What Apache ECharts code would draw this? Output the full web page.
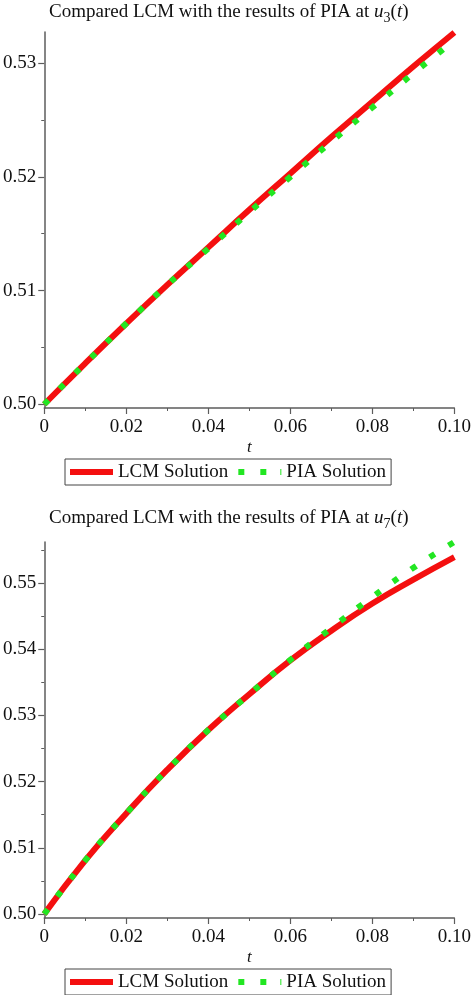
<!DOCTYPE html>
<html>
<head>
<meta charset="utf-8">
<script src="https://cdn.jsdelivr.net/npm/echarts@6/dist/echarts.min.js"></script>
<style>
  html, body { margin: 0; padding: 0; background: #fff; }
  #chart { width: 474px; height: 995px; }
</style>
</head>
<body>
<div id="chart"></div>
<script>
const tValues = [0, 0.01, 0.02, 0.03, 0.04, 0.05, 0.06, 0.07, 0.08, 0.09, 0.1];

// top panel, u3(t)
const lcmU3 = [0.5, 0.5036, 0.5071, 0.5105, 0.5138, 0.5171, 0.5203, 0.5235, 0.5266, 0.5297, 0.5327];
const piaU3 = [0.5, 0.5036, 0.5071, 0.5105, 0.5137, 0.5169, 0.5200, 0.5231, 0.5261, 0.5291, 0.5320];
const yTicksU3 = [0.50, 0.51, 0.52, 0.53];
const yMinorU3 = [0.505, 0.515, 0.525];

// bottom panel, u7(t)
const lcmU7 = [0.5, 0.5081, 0.5152, 0.5218, 0.5278, 0.5332, 0.5383, 0.5428, 0.5469, 0.5505, 0.5539];
const piaU7 = [0.5, 0.5081, 0.5152, 0.5218, 0.5278, 0.5332, 0.5384, 0.5432, 0.5479, 0.5523, 0.5562];
const yTicksU7 = [0.50, 0.51, 0.52, 0.53, 0.54, 0.55];
const yMinorU7 = [0.505, 0.515, 0.525, 0.535, 0.545, 0.555];

const seriesNames = ['LCM Solution', 'PIA Solution'];

document.addEventListener('DOMContentLoaded', function () {
    const chart = echarts.init(document.getElementById('chart'));
    const serif = 'Liberation Serif';
    const axisGrey = '#5c5c5c';
    const red = '#f40f0f';
    const green = '#22e622';

    const pairs = (ys) => tValues.map((t, i) => [t, ys[i]]);

    function titleFor(sub, top) {
        return {
            text: 'Compared LCM with the results of PIA at {u|u}{s|' + sub + '}({u|t})',
            left: 49,
            top: top,
            padding: 0,
            textStyle: {
                fontFamily: serif,
                fontSize: 19,
                fontWeight: 'normal',
                color: '#111',
                lineHeight: 26,
                rich: {
                    u: { fontFamily: serif, fontSize: 19, fontStyle: 'italic', color: '#111', lineHeight: 26 },
                    s: { fontFamily: serif, fontSize: 14, color: '#111', lineHeight: 13, verticalAlign: 'bottom' }
                }
            }
        };
    }

    function xAxisFor(grid) {
        return {
            type: 'value',
            gridIndex: grid,
            min: 0,
            max: 0.1,
            interval: 0.02,
            name: 't',
            nameLocation: 'middle',
            nameGap: 31,
            nameTextStyle: { fontFamily: serif, fontStyle: 'italic', fontSize: 17, color: '#111' },
            axisLine: { lineStyle: { color: axisGrey, width: 1.5 } },
            axisTick: { length: 6, lineStyle: { color: axisGrey, width: 1.2 } },
            minorTick: { show: true, splitNumber: 2, length: 3, lineStyle: { color: axisGrey, width: 1 } },
            splitLine: { show: false },
            axisLabel: {
                fontFamily: serif,
                fontSize: 19,
                color: '#111',
                margin: 10,
                showMaxLabel: true,
                formatter: (v) => (v === 0 ? '0' : v.toFixed(2))
            }
        };
    }

    function yAxisPair(grid, min, max, major, minor) {
        return [{
            type: 'value',
            gridIndex: grid,
            position: 'left',
            min: min,
            max: max,
            axisLine: { show: true, lineStyle: { color: axisGrey, width: 1.5 } },
            axisTick: { show: true, length: 6, customValues: major, lineStyle: { color: axisGrey, width: 1.2 } },
            axisLabel: {
                customValues: major,
                fontFamily: serif,
                fontSize: 19,
                color: '#111',
                margin: 8,
                formatter: (v) => v.toFixed(2)
            },
            splitLine: { show: false }
        }, {
            // minor ticks only
            type: 'value',
            gridIndex: grid,
            position: 'left',
            min: min,
            max: max,
            axisLine: { show: false },
            axisTick: { show: true, length: 3, customValues: minor, lineStyle: { color: axisGrey, width: 1 } },
            axisLabel: { show: false },
            splitLine: { show: false }
        }];
    }

    // legend swatches drawn as paths so the dotted one keeps its look
    const legendItems = [
        { name: seriesNames[0], icon: 'path://M0 0H43V6H0Z' },
        { name: seriesNames[1], icon: 'path://M0 0H6V6H0Z M22 0H28V6H22Z M42 0H43V6H42Z' }
    ];

    function legendFor(top) {
        return {
            left: 65,
            top: top,
            orient: 'horizontal',
            data: legendItems,
            itemWidth: 43,
            itemHeight: 6,
            itemGap: 10,
            padding: [3, 5, 3, 5],
            borderColor: '#444',
            borderWidth: 1,
            selectedMode: false,
            textStyle: { fontFamily: serif, fontSize: 19, color: '#111', lineHeight: 20 }
        };
    }

    function lineSeries(name, data, xi, yi, color, dashed) {
        return {
            name: name,
            type: 'line',
            xAxisIndex: xi,
            yAxisIndex: yi,
            data: data,
            smooth: true,
            symbol: 'none',
            showSymbol: false,
            clip: false,
            z: dashed ? 3 : 2,
            itemStyle: { color: color },
            lineStyle: {
                color: color,
                width: 6,
                type: dashed ? [6, 16] : 'solid',
                cap: 'butt'
            }
        };
    }

    const option = {
        animation: false,
        backgroundColor: '#fff',
        title: [titleFor('3', -1), titleFor('7', 505)],
        legend: [legendFor(459), legendFor(969)],
        grid: [
            { left: 41, top: 32, width: 417, height: 376 },
            { left: 41, top: 542, width: 417, height: 376 }
        ],
        xAxis: [xAxisFor(0), xAxisFor(1)],
        yAxis: [
            ...yAxisPair(0, 0.49967, 0.53274, yTicksU3, yMinorU3),
            ...yAxisPair(1, 0.4994, 0.5562, yTicksU7, yMinorU7)
        ],
        series: [
            lineSeries(seriesNames[0], pairs(lcmU3), 0, 0, red, false),
            lineSeries(seriesNames[1], pairs(piaU3), 0, 0, green, true),
            lineSeries(seriesNames[0], pairs(lcmU7), 1, 2, red, false),
            lineSeries(seriesNames[1], pairs(piaU7), 1, 2, green, true)
        ]
    };

    chart.setOption(option);

    window.addEventListener('resize', function () {
        chart.resize();
    });
});
</script>
</body>
</html>
